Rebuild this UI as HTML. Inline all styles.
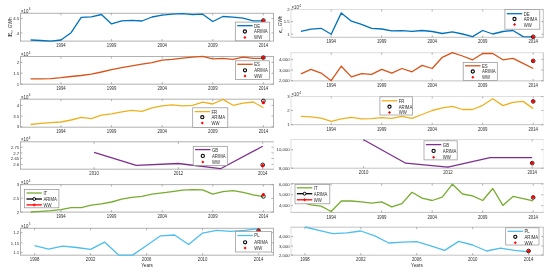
<!DOCTYPE html>
<html><head><meta charset="utf-8"><style>html,body{margin:0;padding:0;background:#fff;overflow:hidden}svg{display:block;filter:blur(0.22px)}</style></head>
<body><svg width="550" height="273" viewBox="0 0 550 273" font-family="Liberation Sans, sans-serif" font-size="4.3" fill="#2e2e2e">
<rect width="550" height="273" fill="#fff"/>
<path d="M20.15 13.3H273.85" stroke="#909090" stroke-width="0.7"/>
<path d="M273.5 13.3V41.1" stroke="#909090" stroke-width="0.7"/>
<path d="M20.15 41.1H273.85" stroke="#909090" stroke-width="0.7"/>
<path d="M20.5 13.3V41.1" stroke="#909090" stroke-width="0.7"/>
<path d="M60.98 41.1v-2.0M60.98 13.3v2.0" stroke="#909090" stroke-width="0.7"/>
<text transform="translate(60.98 47.2) scale(1 1.17)" text-anchor="middle">1994</text>
<path d="M111.58 41.1v-2.0M111.58 13.3v2.0" stroke="#909090" stroke-width="0.7"/>
<text transform="translate(111.58 47.2) scale(1 1.17)" text-anchor="middle">1999</text>
<path d="M162.18 41.1v-2.0M162.18 13.3v2.0" stroke="#909090" stroke-width="0.7"/>
<text transform="translate(162.18 47.2) scale(1 1.17)" text-anchor="middle">2004</text>
<path d="M212.78 41.1v-2.0M212.78 13.3v2.0" stroke="#909090" stroke-width="0.7"/>
<text transform="translate(212.78 47.2) scale(1 1.17)" text-anchor="middle">2009</text>
<path d="M263.38 41.1v-2.0M263.38 13.3v2.0" stroke="#909090" stroke-width="0.7"/>
<text transform="translate(263.38 47.2) scale(1 1.17)" text-anchor="middle">2014</text>
<path d="M20.5 18.5h2.0M273.5 18.5h-2.0" stroke="#909090" stroke-width="0.7"/>
<text transform="translate(19.2 20.15) scale(1 1.0)" text-anchor="end">4.5</text>
<path d="M20.5 32.9h2.0M273.5 32.9h-2.0" stroke="#909090" stroke-width="0.7"/>
<text transform="translate(19.2 34.55) scale(1 1.0)" text-anchor="end">4</text>
<text transform="translate(21.1 12.85) scale(1 1.17)" >&#215;10<tspan font-size="3.1" dx="0.5" dy="-2.1">4</tspan></text>
<polyline points="30.62,40 40.74,40.5 50.86,41.2 60.98,40 71.1,32.7 81.22,17.3 91.34,16.8 101.46,14.5 111.58,23.9 121.7,20.8 131.82,20.4 141.94,21 152.06,17 162.18,15.2 172.3,14.2 182.42,13.7 192.54,14.7 202.66,14.2 212.78,21.5 222.9,16.5 233.02,17.2 243.14,18.2 253.26,20.8 263.38,20.8" fill="none" stroke="#0072BD" stroke-width="1.3" stroke-linejoin="round"/>
<circle cx="263.38" cy="20.5" r="1.85" fill="none" stroke="#000" stroke-width="0.85"/>
<circle cx="263.38" cy="20.5" r="1.6" fill="#f00"/>
<rect x="235.3" y="22.1" width="34.4" height="18.7" fill="#fff" stroke="#909090" stroke-width="0.7"/>
<path d="M237.2 25.7H252.6" stroke="#0072BD" stroke-width="1.3"/>
<text transform="translate(254.1 27.6) scale(1 1.17)" >DE</text>
<circle cx="244.9" cy="31.5" r="1.6" fill="none" stroke="#000" stroke-width="1.1"/>
<path d="M243.4 37.5l1.5 -1.5l1.5 1.5l-1.5 1.5z" fill="#f00"/>
<text transform="translate(254.1 33.4) scale(1 1.17)" >ARIMA</text>
<text transform="translate(254.1 39.4) scale(1 1.17)" >WW</text>
<path d="M20.15 56.5H273.85" stroke="#909090" stroke-width="0.7"/>
<path d="M273.5 56.5V84.2" stroke="#909090" stroke-width="0.7"/>
<path d="M20.15 84.2H273.85" stroke="#909090" stroke-width="0.7"/>
<path d="M20.5 56.5V84.2" stroke="#909090" stroke-width="0.7"/>
<path d="M60.98 84.2v-2.0M60.98 56.5v2.0" stroke="#909090" stroke-width="0.7"/>
<text transform="translate(60.98 90.3) scale(1 1.17)" text-anchor="middle">1994</text>
<path d="M111.58 84.2v-2.0M111.58 56.5v2.0" stroke="#909090" stroke-width="0.7"/>
<text transform="translate(111.58 90.3) scale(1 1.17)" text-anchor="middle">1999</text>
<path d="M162.18 84.2v-2.0M162.18 56.5v2.0" stroke="#909090" stroke-width="0.7"/>
<text transform="translate(162.18 90.3) scale(1 1.17)" text-anchor="middle">2004</text>
<path d="M212.78 84.2v-2.0M212.78 56.5v2.0" stroke="#909090" stroke-width="0.7"/>
<text transform="translate(212.78 90.3) scale(1 1.17)" text-anchor="middle">2009</text>
<path d="M263.38 84.2v-2.0M263.38 56.5v2.0" stroke="#909090" stroke-width="0.7"/>
<text transform="translate(263.38 90.3) scale(1 1.17)" text-anchor="middle">2014</text>
<path d="M20.5 62.3h2.0M273.5 62.3h-2.0" stroke="#909090" stroke-width="0.7"/>
<text transform="translate(19.2 63.95) scale(1 1.0)" text-anchor="end">2</text>
<path d="M20.5 73.2h2.0M273.5 73.2h-2.0" stroke="#909090" stroke-width="0.7"/>
<text transform="translate(19.2 74.85) scale(1 1.0)" text-anchor="end">1.5</text>
<path d="M20.5 84.2h2.0M273.5 84.2h-2.0" stroke="#909090" stroke-width="0.7"/>
<text transform="translate(19.2 85.85) scale(1 1.0)" text-anchor="end">1</text>
<text transform="translate(21.1 56.05) scale(1 1.17)" >&#215;10<tspan font-size="3.1" dx="0.5" dy="-2.1">4</tspan></text>
<polyline points="30.62,78.8 40.74,78.8 50.86,78.6 60.98,77.7 71.1,76.5 81.22,75.5 91.34,74.1 101.46,72 111.58,69.6 121.7,67.7 131.82,65.8 141.94,64.2 152.06,62.7 162.18,60.2 172.3,59.4 182.42,58.1 192.54,57.1 202.66,56.4 212.78,58.9 222.9,58.4 233.02,59.4 243.14,57.1 253.26,58.4 263.38,58.4" fill="none" stroke="#D95319" stroke-width="1.3" stroke-linejoin="round"/>
<circle cx="263.38" cy="57.6" r="1.85" fill="none" stroke="#000" stroke-width="0.85"/>
<circle cx="263.38" cy="57.6" r="1.6" fill="#f00"/>
<rect x="235.4" y="60.8" width="34.2" height="18.8" fill="#fff" stroke="#909090" stroke-width="0.7"/>
<path d="M237.3 64.3H252.7" stroke="#D95319" stroke-width="1.3"/>
<text transform="translate(254.2 66.2) scale(1 1.17)" >ES</text>
<circle cx="245" cy="70.3" r="1.6" fill="none" stroke="#000" stroke-width="1.1"/>
<path d="M243.5 76l1.5 -1.5l1.5 1.5l-1.5 1.5z" fill="#f00"/>
<text transform="translate(254.2 72.2) scale(1 1.17)" >ARIMA</text>
<text transform="translate(254.2 77.9) scale(1 1.17)" >WW</text>
<path d="M20.15 99.2H273.85" stroke="#909090" stroke-width="0.7"/>
<path d="M273.5 99.2V127.2" stroke="#909090" stroke-width="0.7"/>
<path d="M20.15 127.2H273.85" stroke="#909090" stroke-width="0.7"/>
<path d="M20.5 99.2V127.2" stroke="#909090" stroke-width="0.7"/>
<path d="M60.98 127.2v-2.0M60.98 99.2v2.0" stroke="#909090" stroke-width="0.7"/>
<text transform="translate(60.98 133.3) scale(1 1.17)" text-anchor="middle">1994</text>
<path d="M111.58 127.2v-2.0M111.58 99.2v2.0" stroke="#909090" stroke-width="0.7"/>
<text transform="translate(111.58 133.3) scale(1 1.17)" text-anchor="middle">1999</text>
<path d="M162.18 127.2v-2.0M162.18 99.2v2.0" stroke="#909090" stroke-width="0.7"/>
<text transform="translate(162.18 133.3) scale(1 1.17)" text-anchor="middle">2004</text>
<path d="M212.78 127.2v-2.0M212.78 99.2v2.0" stroke="#909090" stroke-width="0.7"/>
<text transform="translate(212.78 133.3) scale(1 1.17)" text-anchor="middle">2009</text>
<path d="M263.38 127.2v-2.0M263.38 99.2v2.0" stroke="#909090" stroke-width="0.7"/>
<text transform="translate(263.38 133.3) scale(1 1.17)" text-anchor="middle">2014</text>
<path d="M20.5 105.4h2.0M273.5 105.4h-2.0" stroke="#909090" stroke-width="0.7"/>
<text transform="translate(19.2 107.05) scale(1 1.0)" text-anchor="end">4</text>
<path d="M20.5 116.1h2.0M273.5 116.1h-2.0" stroke="#909090" stroke-width="0.7"/>
<text transform="translate(19.2 117.75) scale(1 1.0)" text-anchor="end">3.5</text>
<path d="M20.5 126.8h2.0M273.5 126.8h-2.0" stroke="#909090" stroke-width="0.7"/>
<text transform="translate(19.2 128.45) scale(1 1.0)" text-anchor="end">3</text>
<text transform="translate(21.1 98.75) scale(1 1.17)" >&#215;10<tspan font-size="3.1" dx="0.5" dy="-2.1">4</tspan></text>
<polyline points="30.62,124.5 40.74,123.3 50.86,122.7 60.98,122 71.1,120 81.22,117.4 91.34,118.7 101.46,115.1 111.58,113.8 121.7,111.8 131.82,110.3 141.94,111.4 152.06,107.8 162.18,105.8 172.3,104.8 182.42,105.8 192.54,105.3 202.66,102.2 212.78,104 222.9,99.4 233.02,105.3 243.14,103.2 253.26,102 263.38,107.8" fill="none" stroke="#EDB120" stroke-width="1.3" stroke-linejoin="round"/>
<circle cx="263.38" cy="101" r="1.85" fill="none" stroke="#000" stroke-width="0.85"/>
<circle cx="263.38" cy="102.7" r="1.6" fill="#f00"/>
<rect x="192.7" y="107.8" width="35.1" height="19.6" fill="#fff" stroke="#909090" stroke-width="0.7"/>
<path d="M194.6 111.6H210" stroke="#EDB120" stroke-width="1.3"/>
<text transform="translate(211.5 113.5) scale(1 1.17)" >FR</text>
<circle cx="202.3" cy="117.2" r="1.6" fill="none" stroke="#000" stroke-width="1.1"/>
<path d="M200.8 123l1.5 -1.5l1.5 1.5l-1.5 1.5z" fill="#f00"/>
<text transform="translate(211.5 119.1) scale(1 1.17)" >ARIMA</text>
<text transform="translate(211.5 124.9) scale(1 1.17)" >WW</text>
<path d="M20.15 141.8H273.85" stroke="#909090" stroke-width="0.7"/>
<path d="M273.5 141.8V169.2" stroke="#ececec" stroke-width="0.7"/>
<path d="M20.15 169.2H273.85" stroke="#909090" stroke-width="0.7"/>
<path d="M20.5 141.8V169.2" stroke="#909090" stroke-width="0.7"/>
<path d="M94.1 169.2v-2.0M94.1 141.8v2.0" stroke="#909090" stroke-width="0.7"/>
<text transform="translate(94.1 175.3) scale(1 1.17)" text-anchor="middle">2010</text>
<path d="M178.4 169.2v-2.0M178.4 141.8v2.0" stroke="#909090" stroke-width="0.7"/>
<text transform="translate(178.4 175.3) scale(1 1.17)" text-anchor="middle">2012</text>
<path d="M262.7 169.2v-2.0M262.7 141.8v2.0" stroke="#909090" stroke-width="0.7"/>
<text transform="translate(262.7 175.3) scale(1 1.17)" text-anchor="middle">2014</text>
<path d="M20.5 147.3h2.0M273.5 147.3h-2.0" stroke="#909090" stroke-width="0.7"/>
<text transform="translate(19.2 148.95) scale(1 1.0)" text-anchor="end">2.75</text>
<path d="M20.5 152.9h2.0M273.5 152.9h-2.0" stroke="#909090" stroke-width="0.7"/>
<text transform="translate(19.2 154.55) scale(1 1.0)" text-anchor="end">2.7</text>
<path d="M20.5 158.5h2.0M273.5 158.5h-2.0" stroke="#909090" stroke-width="0.7"/>
<text transform="translate(19.2 160.15) scale(1 1.0)" text-anchor="end">2.65</text>
<path d="M20.5 164.4h2.0M273.5 164.4h-2.0" stroke="#909090" stroke-width="0.7"/>
<text transform="translate(19.2 166.05) scale(1 1.0)" text-anchor="end">2.6</text>
<text transform="translate(21.1 141.35) scale(1 1.17)" >&#215;10<tspan font-size="3.1" dx="0.5" dy="-2.1">4</tspan></text>
<polyline points="94.1,152.4 136.25,165.4 178.4,163.5 220.55,168.7 262.7,146.3" fill="none" stroke="#7E2F8E" stroke-width="1.3" stroke-linejoin="round"/>
<circle cx="262.7" cy="164.9" r="1.85" fill="none" stroke="#000" stroke-width="0.85"/>
<circle cx="262.7" cy="165.7" r="1.6" fill="#f00"/>
<rect x="193.2" y="146.3" width="34.1" height="19.1" fill="#fff" stroke="#909090" stroke-width="0.7"/>
<path d="M195.1 149.6H210.5" stroke="#7E2F8E" stroke-width="1.3"/>
<text transform="translate(212 151.5) scale(1 1.17)" >GB</text>
<circle cx="202.8" cy="155.9" r="1.6" fill="none" stroke="#000" stroke-width="1.1"/>
<path d="M201.3 161.9l1.5 -1.5l1.5 1.5l-1.5 1.5z" fill="#f00"/>
<text transform="translate(212 157.8) scale(1 1.17)" >ARIMA</text>
<text transform="translate(212 163.8) scale(1 1.17)" >WW</text>
<path d="M20.15 184.6H273.85" stroke="#909090" stroke-width="0.7"/>
<path d="M273.5 184.6V212.1" stroke="#909090" stroke-width="0.7"/>
<path d="M20.15 212.1H273.85" stroke="#909090" stroke-width="0.7"/>
<path d="M20.5 184.6V212.1" stroke="#909090" stroke-width="0.7"/>
<path d="M60.98 212.1v-2.0M60.98 184.6v2.0" stroke="#909090" stroke-width="0.7"/>
<text transform="translate(60.98 218.2) scale(1 1.17)" text-anchor="middle">1994</text>
<path d="M111.58 212.1v-2.0M111.58 184.6v2.0" stroke="#909090" stroke-width="0.7"/>
<text transform="translate(111.58 218.2) scale(1 1.17)" text-anchor="middle">1999</text>
<path d="M162.18 212.1v-2.0M162.18 184.6v2.0" stroke="#909090" stroke-width="0.7"/>
<text transform="translate(162.18 218.2) scale(1 1.17)" text-anchor="middle">2004</text>
<path d="M212.78 212.1v-2.0M212.78 184.6v2.0" stroke="#909090" stroke-width="0.7"/>
<text transform="translate(212.78 218.2) scale(1 1.17)" text-anchor="middle">2009</text>
<path d="M263.38 212.1v-2.0M263.38 184.6v2.0" stroke="#909090" stroke-width="0.7"/>
<text transform="translate(263.38 218.2) scale(1 1.17)" text-anchor="middle">2014</text>
<path d="M20.5 184.6h2.0M273.5 184.6h-2.0" stroke="#909090" stroke-width="0.7"/>
<text transform="translate(19.2 186.25) scale(1 1.0)" text-anchor="end">3</text>
<path d="M20.5 198.3h2.0M273.5 198.3h-2.0" stroke="#909090" stroke-width="0.7"/>
<text transform="translate(19.2 199.95) scale(1 1.0)" text-anchor="end">2.5</text>
<path d="M20.5 212.1h2.0M273.5 212.1h-2.0" stroke="#909090" stroke-width="0.7"/>
<text transform="translate(19.2 213.75) scale(1 1.0)" text-anchor="end">2</text>
<text transform="translate(21.1 184.15) scale(1 1.17)" >&#215;10<tspan font-size="3.1" dx="0.5" dy="-2.1">4</tspan></text>
<polyline points="30.62,212 40.74,211.4 50.86,210.7 60.98,209.7 71.1,207.6 81.22,207.6 91.34,205.1 101.46,203.8 111.58,202 121.7,199.2 131.82,197.4 141.94,196.4 152.06,194.1 162.18,192.9 172.3,191.6 182.42,190.1 192.54,189.6 202.66,189.8 212.78,194.1 222.9,191.6 233.02,190.6 243.14,192.4 253.26,194.9 263.38,196.7" fill="none" stroke="#77AC30" stroke-width="1.3" stroke-linejoin="round"/>
<circle cx="263.38" cy="196.4" r="1.85" fill="none" stroke="#000" stroke-width="0.85"/>
<circle cx="263.38" cy="194.6" r="1.6" fill="#f00"/>
<rect x="24.6" y="189.5" width="34.3" height="18.3" fill="#fff" stroke="#909090" stroke-width="0.7"/>
<path d="M26.5 193H41.9" stroke="#77AC30" stroke-width="1.3"/>
<text transform="translate(43.4 194.9) scale(1 1.17)" >IT</text>
<path d="M26.5 199H41.9" stroke="#000" stroke-width="1.3"/>
<path d="M26.5 204.9H41.9" stroke="#f00" stroke-width="1.3"/>
<circle cx="34.2" cy="199" r="1.45" fill="#fff" stroke="#000" stroke-width="1"/>
<path d="M32.7 204.9h3M34.2 203.4v3" stroke="#f00" stroke-width="0.9"/>
<text transform="translate(43.4 200.9) scale(1 1.17)" >ARIMA</text>
<text transform="translate(43.4 206.8) scale(1 1.17)" >WW</text>
<path d="M20.15 228.3H273.85" stroke="#909090" stroke-width="0.7"/>
<path d="M273.5 228.3V255.2" stroke="#909090" stroke-width="0.7"/>
<path d="M20.15 255.2H273.85" stroke="#909090" stroke-width="0.7"/>
<path d="M20.5 228.3V255.2" stroke="#909090" stroke-width="0.7"/>
<path d="M34.6 255.2v-2.0M34.6 228.3v2.0" stroke="#909090" stroke-width="0.7"/>
<text transform="translate(34.6 261.3) scale(1 1.17)" text-anchor="middle">1998</text>
<path d="M90.6 255.2v-2.0M90.6 228.3v2.0" stroke="#909090" stroke-width="0.7"/>
<text transform="translate(90.6 261.3) scale(1 1.17)" text-anchor="middle">2002</text>
<path d="M146.6 255.2v-2.0M146.6 228.3v2.0" stroke="#909090" stroke-width="0.7"/>
<text transform="translate(146.6 261.3) scale(1 1.17)" text-anchor="middle">2006</text>
<path d="M202.6 255.2v-2.0M202.6 228.3v2.0" stroke="#909090" stroke-width="0.7"/>
<text transform="translate(202.6 261.3) scale(1 1.17)" text-anchor="middle">2010</text>
<path d="M258.6 255.2v-2.0M258.6 228.3v2.0" stroke="#909090" stroke-width="0.7"/>
<text transform="translate(258.6 261.3) scale(1 1.17)" text-anchor="middle">2014</text>
<path d="M20.5 232.7h2.0M273.5 232.7h-2.0" stroke="#909090" stroke-width="0.7"/>
<text transform="translate(19.2 234.35) scale(1 1.0)" text-anchor="end">1.2</text>
<path d="M20.5 242.9h2.0M273.5 242.9h-2.0" stroke="#909090" stroke-width="0.7"/>
<text transform="translate(19.2 244.55) scale(1 1.0)" text-anchor="end">1.15</text>
<path d="M20.5 252.6h2.0M273.5 252.6h-2.0" stroke="#909090" stroke-width="0.7"/>
<text transform="translate(19.2 254.25) scale(1 1.0)" text-anchor="end">1.1</text>
<text transform="translate(21.1 227.85) scale(1 1.17)" >&#215;10<tspan font-size="3.1" dx="0.5" dy="-2.1">5</tspan></text>
<polyline points="34.6,245.6 48.6,249.2 62.6,246.1 76.6,247.5 90.6,249.4 104.6,242.1 118.6,255.1 132.6,255.1 146.6,245.5 160.6,235.8 174.6,235 188.6,244.5 202.6,233.1 216.6,230.4 230.6,231.4 244.6,230.4 258.6,228.7" fill="none" stroke="#4DBEEE" stroke-width="1.3" stroke-linejoin="round"/>
<circle cx="258.6" cy="230.7" r="1.85" fill="none" stroke="#000" stroke-width="0.85"/>
<circle cx="258.6" cy="230.7" r="1.6" fill="#f00"/>
<rect x="235.5" y="231.6" width="35.9" height="20.4" fill="#fff" stroke="#909090" stroke-width="0.7"/>
<path d="M237.4 235.5H252.8" stroke="#4DBEEE" stroke-width="1.3"/>
<text transform="translate(254.3 237.4) scale(1 1.17)" >PL</text>
<circle cx="245.1" cy="242.3" r="1.6" fill="none" stroke="#000" stroke-width="1.1"/>
<path d="M243.6 248.1l1.5 -1.5l1.5 1.5l-1.5 1.5z" fill="#f00"/>
<text transform="translate(254.3 244.2) scale(1 1.17)" >ARIMA</text>
<text transform="translate(254.3 250) scale(1 1.17)" >WW</text>
<path d="M290.65 9.5H543.65" stroke="#d0d0d0" stroke-width="0.7"/>
<path d="M543.3 9.5V37.3" stroke="#a8a8a8" stroke-width="0.7"/>
<path d="M290.65 37.3H543.65" stroke="#a8a8a8" stroke-width="0.7"/>
<path d="M291 9.5V37.3" stroke="#d0d0d0" stroke-width="0.7"/>
<path d="M331.2 37.3v-2.0M331.2 9.5v2.0" stroke="#909090" stroke-width="0.7"/>
<text transform="translate(331.2 43.4) scale(1 1.17)" text-anchor="middle">1994</text>
<path d="M381.7 37.3v-2.0M381.7 9.5v2.0" stroke="#909090" stroke-width="0.7"/>
<text transform="translate(381.7 43.4) scale(1 1.17)" text-anchor="middle">1999</text>
<path d="M432.2 37.3v-2.0M432.2 9.5v2.0" stroke="#909090" stroke-width="0.7"/>
<text transform="translate(432.2 43.4) scale(1 1.17)" text-anchor="middle">2004</text>
<path d="M482.7 37.3v-2.0M482.7 9.5v2.0" stroke="#909090" stroke-width="0.7"/>
<text transform="translate(482.7 43.4) scale(1 1.17)" text-anchor="middle">2009</text>
<path d="M533.2 37.3v-2.0M533.2 9.5v2.0" stroke="#909090" stroke-width="0.7"/>
<text transform="translate(533.2 43.4) scale(1 1.17)" text-anchor="middle">2014</text>
<path d="M291 9.6h2.0M543.3 9.6h-2.0" stroke="#909090" stroke-width="0.7"/>
<text transform="translate(289.7 11.25) scale(1 1.0)" text-anchor="end">2</text>
<path d="M291 21.6h2.0M543.3 21.6h-2.0" stroke="#909090" stroke-width="0.7"/>
<text transform="translate(289.7 23.25) scale(1 1.0)" text-anchor="end">1.5</text>
<path d="M291 34.2h2.0M543.3 34.2h-2.0" stroke="#909090" stroke-width="0.7"/>
<text transform="translate(289.7 35.85) scale(1 1.0)" text-anchor="end">1</text>
<text transform="translate(291.6 9.05) scale(1 1.17)" >&#215;10<tspan font-size="3.1" dx="0.5" dy="-2.1">4</tspan></text>
<polyline points="300.9,31.4 311,29.2 321.1,28.3 331.2,34.2 341.3,12.9 351.4,21.2 361.5,24.3 371.6,28.3 381.7,29 391.8,30.9 401.9,30.7 412,31.4 422.1,30.5 432.2,31.5 442.3,33.5 452.4,31.8 462.5,34 472.6,36.6 482.7,30.5 492.8,34 502.9,31.5 513,30.5 523.1,36.6 533.2,36.8" fill="none" stroke="#0072BD" stroke-width="1.3" stroke-linejoin="round"/>
<circle cx="533.2" cy="36.8" r="1.85" fill="none" stroke="#000" stroke-width="0.85"/>
<circle cx="533.2" cy="36.8" r="1.6" fill="#f00"/>
<rect x="504.9" y="9.5" width="34.9" height="19.7" fill="#fff" stroke="#909090" stroke-width="0.7"/>
<path d="M506.8 13.7H522.2" stroke="#0072BD" stroke-width="1.3"/>
<text transform="translate(523.7 15.6) scale(1 1.17)" >DE</text>
<circle cx="514.5" cy="19" r="1.6" fill="none" stroke="#000" stroke-width="1.1"/>
<path d="M513 24.6l1.5 -1.5l1.5 1.5l-1.5 1.5z" fill="#f00"/>
<text transform="translate(523.7 20.9) scale(1 1.17)" >ARIMA</text>
<text transform="translate(523.7 26.5) scale(1 1.17)" >WW</text>
<path d="M290.65 52.7H543.65" stroke="#d0d0d0" stroke-width="0.7"/>
<path d="M543.3 52.7V80.9" stroke="#a8a8a8" stroke-width="0.7"/>
<path d="M290.65 80.9H543.65" stroke="#a8a8a8" stroke-width="0.7"/>
<path d="M291 52.7V80.9" stroke="#d0d0d0" stroke-width="0.7"/>
<path d="M331.2 80.9v-2.0M331.2 52.7v2.0" stroke="#909090" stroke-width="0.7"/>
<text transform="translate(331.2 87) scale(1 1.17)" text-anchor="middle">1994</text>
<path d="M381.7 80.9v-2.0M381.7 52.7v2.0" stroke="#909090" stroke-width="0.7"/>
<text transform="translate(381.7 87) scale(1 1.17)" text-anchor="middle">1999</text>
<path d="M432.2 80.9v-2.0M432.2 52.7v2.0" stroke="#909090" stroke-width="0.7"/>
<text transform="translate(432.2 87) scale(1 1.17)" text-anchor="middle">2004</text>
<path d="M482.7 80.9v-2.0M482.7 52.7v2.0" stroke="#909090" stroke-width="0.7"/>
<text transform="translate(482.7 87) scale(1 1.17)" text-anchor="middle">2009</text>
<path d="M533.2 80.9v-2.0M533.2 52.7v2.0" stroke="#909090" stroke-width="0.7"/>
<text transform="translate(533.2 87) scale(1 1.17)" text-anchor="middle">2014</text>
<path d="M291 59.4h2.0M543.3 59.4h-2.0" stroke="#909090" stroke-width="0.7"/>
<text transform="translate(289.7 61.05) scale(1 1.0)" text-anchor="end">4,000</text>
<path d="M291 70h2.0M543.3 70h-2.0" stroke="#909090" stroke-width="0.7"/>
<text transform="translate(289.7 71.65) scale(1 1.0)" text-anchor="end">3,000</text>
<path d="M291 80.7h2.0M543.3 80.7h-2.0" stroke="#909090" stroke-width="0.7"/>
<text transform="translate(289.7 82.35) scale(1 1.0)" text-anchor="end">2,000</text>
<polyline points="300.9,73.8 311,69.3 321.1,73.1 331.2,80.7 341.3,66.2 351.4,76.9 361.5,73.6 371.6,74.4 381.7,69.3 391.8,73.1 401.9,68.5 412,71.8 422.1,65.4 432.2,68.5 442.3,57.3 452.4,52.7 462.5,56 472.6,59.8 482.7,53.5 492.8,53.5 502.9,59.8 513,58.3 523.1,63.4 533.2,68.5" fill="none" stroke="#D95319" stroke-width="1.3" stroke-linejoin="round"/>
<circle cx="533.2" cy="60.9" r="1.85" fill="none" stroke="#000" stroke-width="0.85"/>
<circle cx="533.2" cy="60.9" r="1.6" fill="#f00"/>
<rect x="463.2" y="62.4" width="34.1" height="18.2" fill="#fff" stroke="#909090" stroke-width="0.7"/>
<path d="M465.1 65.8H480.5" stroke="#D95319" stroke-width="1.3"/>
<text transform="translate(482 67.7) scale(1 1.17)" >ES</text>
<circle cx="472.8" cy="71.5" r="1.6" fill="none" stroke="#000" stroke-width="1.1"/>
<path d="M471.3 77.3l1.5 -1.5l1.5 1.5l-1.5 1.5z" fill="#f00"/>
<text transform="translate(482 73.4) scale(1 1.17)" >ARIMA</text>
<text transform="translate(482 79.2) scale(1 1.17)" >WW</text>
<path d="M290.65 96.5H543.65" stroke="#d0d0d0" stroke-width="0.7"/>
<path d="M543.3 96.5V124.7" stroke="#ececec" stroke-width="0.7"/>
<path d="M290.65 124.7H543.65" stroke="#a8a8a8" stroke-width="0.7"/>
<path d="M291 96.5V124.7" stroke="#d0d0d0" stroke-width="0.7"/>
<path d="M331.2 124.7v-2.0M331.2 96.5v2.0" stroke="#909090" stroke-width="0.7"/>
<text transform="translate(331.2 130.8) scale(1 1.17)" text-anchor="middle">1994</text>
<path d="M381.7 124.7v-2.0M381.7 96.5v2.0" stroke="#909090" stroke-width="0.7"/>
<text transform="translate(381.7 130.8) scale(1 1.17)" text-anchor="middle">1999</text>
<path d="M432.2 124.7v-2.0M432.2 96.5v2.0" stroke="#909090" stroke-width="0.7"/>
<text transform="translate(432.2 130.8) scale(1 1.17)" text-anchor="middle">2004</text>
<path d="M482.7 124.7v-2.0M482.7 96.5v2.0" stroke="#909090" stroke-width="0.7"/>
<text transform="translate(482.7 130.8) scale(1 1.17)" text-anchor="middle">2009</text>
<path d="M533.2 124.7v-2.0M533.2 96.5v2.0" stroke="#909090" stroke-width="0.7"/>
<text transform="translate(533.2 130.8) scale(1 1.17)" text-anchor="middle">2014</text>
<path d="M291 96.5h2.0M543.3 96.5h-2.0" stroke="#909090" stroke-width="0.7"/>
<text transform="translate(289.7 98.15) scale(1 1.0)" text-anchor="end">3</text>
<path d="M291 110.5h2.0M543.3 110.5h-2.0" stroke="#909090" stroke-width="0.7"/>
<text transform="translate(289.7 112.15) scale(1 1.0)" text-anchor="end">2</text>
<path d="M291 124.7h2.0M543.3 124.7h-2.0" stroke="#909090" stroke-width="0.7"/>
<text transform="translate(289.7 126.35) scale(1 1.0)" text-anchor="end">1</text>
<text transform="translate(291.6 96.05) scale(1 1.17)" >&#215;10<tspan font-size="3.1" dx="0.5" dy="-2.1">4</tspan></text>
<polyline points="300.9,116.3 311,116.8 321.1,118.1 331.2,121.4 341.3,118.8 351.4,117.3 361.5,118.8 371.6,118.6 381.7,117.7 391.8,118.4 401.9,116.4 412,118.4 422.1,114.5 432.2,110.5 442.3,107.9 452.4,106.3 462.5,109.5 472.6,109.5 482.7,105.3 492.8,98.7 502.9,105.6 513,102.3 523.1,101.4 533.2,108.6" fill="none" stroke="#EDB120" stroke-width="1.3" stroke-linejoin="round"/>
<circle cx="533.2" cy="101.4" r="1.85" fill="none" stroke="#000" stroke-width="0.85"/>
<circle cx="533.2" cy="101.4" r="1.6" fill="#f00"/>
<rect x="379.9" y="96.8" width="32.7" height="18.2" fill="#fff" stroke="#909090" stroke-width="0.7"/>
<path d="M381.8 100.8H397.2" stroke="#EDB120" stroke-width="1.3"/>
<text transform="translate(398.7 102.7) scale(1 1.17)" >FR</text>
<circle cx="389.5" cy="106.7" r="1.6" fill="none" stroke="#000" stroke-width="1.1"/>
<path d="M388 112.5l1.5 -1.5l1.5 1.5l-1.5 1.5z" fill="#f00"/>
<text transform="translate(398.7 108.6) scale(1 1.17)" >ARIMA</text>
<text transform="translate(398.7 114.4) scale(1 1.17)" >WW</text>
<path d="M290.65 139.5H543.65" stroke="#d0d0d0" stroke-width="0.7"/>
<path d="M543.3 139.5V168.2" stroke="#ececec" stroke-width="0.7"/>
<path d="M290.65 168.2H543.65" stroke="#a8a8a8" stroke-width="0.7"/>
<path d="M291 139.5V168.2" stroke="#d0d0d0" stroke-width="0.7"/>
<path d="M363.6 168.2v-2.0M363.6 139.5v2.0" stroke="#909090" stroke-width="0.7"/>
<text transform="translate(363.6 174.3) scale(1 1.17)" text-anchor="middle">2010</text>
<path d="M447.9 168.2v-2.0M447.9 139.5v2.0" stroke="#909090" stroke-width="0.7"/>
<text transform="translate(447.9 174.3) scale(1 1.17)" text-anchor="middle">2012</text>
<path d="M532.2 168.2v-2.0M532.2 139.5v2.0" stroke="#909090" stroke-width="0.7"/>
<text transform="translate(532.2 174.3) scale(1 1.17)" text-anchor="middle">2014</text>
<path d="M291 149.7h2.0M543.3 149.7h-2.0" stroke="#909090" stroke-width="0.7"/>
<text transform="translate(289.7 151.35) scale(1 1.0)" text-anchor="end">10,000</text>
<path d="M291 168.2h2.0M543.3 168.2h-2.0" stroke="#909090" stroke-width="0.7"/>
<text transform="translate(289.7 169.85) scale(1 1.0)" text-anchor="end">8,000</text>
<polyline points="363.6,139.8 405.75,163.2 447.9,167.2 490.05,157.7 532.2,157.7" fill="none" stroke="#7E2F8E" stroke-width="1.3" stroke-linejoin="round"/>
<circle cx="532.2" cy="163.1" r="1.85" fill="none" stroke="#000" stroke-width="0.85"/>
<circle cx="532.2" cy="163.1" r="1.6" fill="#f00"/>
<rect x="424" y="140.8" width="33.2" height="19.1" fill="#fff" stroke="#909090" stroke-width="0.7"/>
<path d="M425.9 144.6H441.3" stroke="#7E2F8E" stroke-width="1.3"/>
<text transform="translate(442.8 146.5) scale(1 1.17)" >GB</text>
<circle cx="433.6" cy="150.9" r="1.6" fill="none" stroke="#000" stroke-width="1.1"/>
<path d="M432.1 157.2l1.5 -1.5l1.5 1.5l-1.5 1.5z" fill="#f00"/>
<text transform="translate(442.8 152.8) scale(1 1.17)" >ARIMA</text>
<text transform="translate(442.8 159.1) scale(1 1.17)" >WW</text>
<path d="M290.65 183.6H543.65" stroke="#a8a8a8" stroke-width="0.7"/>
<path d="M543.3 183.6V212.4" stroke="#ececec" stroke-width="0.7"/>
<path d="M290.65 212.4H543.65" stroke="#a8a8a8" stroke-width="0.7"/>
<path d="M291 183.6V212.4" stroke="#d0d0d0" stroke-width="0.7"/>
<path d="M331.2 212.4v-2.0M331.2 183.6v2.0" stroke="#909090" stroke-width="0.7"/>
<text transform="translate(331.2 218.5) scale(1 1.17)" text-anchor="middle">1994</text>
<path d="M381.7 212.4v-2.0M381.7 183.6v2.0" stroke="#909090" stroke-width="0.7"/>
<text transform="translate(381.7 218.5) scale(1 1.17)" text-anchor="middle">1999</text>
<path d="M432.2 212.4v-2.0M432.2 183.6v2.0" stroke="#909090" stroke-width="0.7"/>
<text transform="translate(432.2 218.5) scale(1 1.17)" text-anchor="middle">2004</text>
<path d="M482.7 212.4v-2.0M482.7 183.6v2.0" stroke="#909090" stroke-width="0.7"/>
<text transform="translate(482.7 218.5) scale(1 1.17)" text-anchor="middle">2009</text>
<path d="M533.2 212.4v-2.0M533.2 183.6v2.0" stroke="#909090" stroke-width="0.7"/>
<text transform="translate(533.2 218.5) scale(1 1.17)" text-anchor="middle">2014</text>
<path d="M291 184h2.0M543.3 184h-2.0" stroke="#909090" stroke-width="0.7"/>
<text transform="translate(289.7 185.65) scale(1 1.0)" text-anchor="end">6,000</text>
<path d="M291 194.8h2.0M543.3 194.8h-2.0" stroke="#909090" stroke-width="0.7"/>
<text transform="translate(289.7 196.45) scale(1 1.0)" text-anchor="end">5,000</text>
<path d="M291 205.6h2.0M543.3 205.6h-2.0" stroke="#909090" stroke-width="0.7"/>
<text transform="translate(289.7 207.25) scale(1 1.0)" text-anchor="end">4,000</text>
<polyline points="300.9,202 311,204.9 321.1,206.1 331.2,211.5 341.3,201 351.4,201 361.5,201.8 371.6,203.1 381.7,201.8 391.8,206.9 401.9,203.6 412,192.3 422.1,198.1 432.2,200.5 442.3,197.2 452.4,184.2 462.5,194 472.6,195.9 482.7,200.5 492.8,188.5 502.9,205.4 513,196.4 523.1,198.6 533.2,200.8" fill="none" stroke="#77AC30" stroke-width="1.3" stroke-linejoin="round"/>
<circle cx="533.2" cy="197.5" r="1.85" fill="none" stroke="#000" stroke-width="0.85"/>
<circle cx="533.2" cy="197.2" r="1.6" fill="#f00"/>
<rect x="295" y="184.5" width="34.8" height="19.3" fill="#fff" stroke="#909090" stroke-width="0.7"/>
<path d="M296.9 187.8H312.3" stroke="#77AC30" stroke-width="1.3"/>
<text transform="translate(313.8 189.7) scale(1 1.17)" >IT</text>
<path d="M296.9 193.7H312.3" stroke="#000" stroke-width="1.3"/>
<path d="M296.9 199.8H312.3" stroke="#f00" stroke-width="1.3"/>
<circle cx="304.6" cy="193.7" r="1.45" fill="#fff" stroke="#000" stroke-width="1"/>
<path d="M303.1 199.8h3M304.6 198.3v3" stroke="#f00" stroke-width="0.9"/>
<text transform="translate(313.8 195.6) scale(1 1.17)" >ARIMA</text>
<text transform="translate(313.8 201.7) scale(1 1.17)" >WW</text>
<path d="M290.65 227.2H543.65" stroke="#a8a8a8" stroke-width="0.7"/>
<path d="M543.3 227.2V255.2" stroke="#a8a8a8" stroke-width="0.7"/>
<path d="M290.65 255.2H543.65" stroke="#a8a8a8" stroke-width="0.7"/>
<path d="M291 227.2V255.2" stroke="#d0d0d0" stroke-width="0.7"/>
<path d="M304.9 255.2v-2.0M304.9 227.2v2.0" stroke="#909090" stroke-width="0.7"/>
<text transform="translate(304.9 261.3) scale(1 1.17)" text-anchor="middle">1998</text>
<path d="M360.82 255.2v-2.0M360.82 227.2v2.0" stroke="#909090" stroke-width="0.7"/>
<text transform="translate(360.82 261.3) scale(1 1.17)" text-anchor="middle">2002</text>
<path d="M416.74 255.2v-2.0M416.74 227.2v2.0" stroke="#909090" stroke-width="0.7"/>
<text transform="translate(416.74 261.3) scale(1 1.17)" text-anchor="middle">2006</text>
<path d="M472.66 255.2v-2.0M472.66 227.2v2.0" stroke="#909090" stroke-width="0.7"/>
<text transform="translate(472.66 261.3) scale(1 1.17)" text-anchor="middle">2010</text>
<path d="M528.58 255.2v-2.0M528.58 227.2v2.0" stroke="#909090" stroke-width="0.7"/>
<text transform="translate(528.58 261.3) scale(1 1.17)" text-anchor="middle">2014</text>
<path d="M291 236.6h2.0M543.3 236.6h-2.0" stroke="#909090" stroke-width="0.7"/>
<text transform="translate(289.7 238.25) scale(1 1.0)" text-anchor="end">4,000</text>
<path d="M291 246h2.0M543.3 246h-2.0" stroke="#909090" stroke-width="0.7"/>
<text transform="translate(289.7 247.65) scale(1 1.0)" text-anchor="end">3,000</text>
<path d="M291 255h2.0M543.3 255h-2.0" stroke="#909090" stroke-width="0.7"/>
<text transform="translate(289.7 256.65) scale(1 1.0)" text-anchor="end">2,000</text>
<polyline points="304.9,227 318.88,230.3 332.86,233.6 346.84,232.8 360.82,231 374.8,235.9 388.78,243 402.76,242.2 416.74,241.7 430.72,245.8 444.7,250.4 458.68,241.4 472.66,245 486.64,251 500.62,248.2 514.6,250.4 528.58,251.8" fill="none" stroke="#4DBEEE" stroke-width="1.3" stroke-linejoin="round"/>
<circle cx="528.58" cy="251" r="1.85" fill="none" stroke="#000" stroke-width="0.85"/>
<circle cx="528.58" cy="251" r="1.6" fill="#f00"/>
<rect x="505.7" y="227.8" width="33.3" height="17.2" fill="#fff" stroke="#909090" stroke-width="0.7"/>
<path d="M507.6 231.3H523" stroke="#4DBEEE" stroke-width="1.3"/>
<text transform="translate(524.5 233.2) scale(1 1.17)" >PL</text>
<circle cx="515.3" cy="236.8" r="1.6" fill="none" stroke="#000" stroke-width="1.1"/>
<path d="M513.8 242.8l1.5 -1.5l1.5 1.5l-1.5 1.5z" fill="#f00"/>
<text transform="translate(524.5 238.7) scale(1 1.17)" >ARIMA</text>
<text transform="translate(524.5 244.7) scale(1 1.17)" >WW</text>
<g transform="translate(11.6,27) rotate(-90)"><text text-anchor="middle" font-size="4.8" textLength="19.3" lengthAdjust="spacingAndGlyphs"><tspan font-family="Liberation Serif" font-weight="bold" font-size="6">E</tspan><tspan font-size="3.4" dy="0.9">c</tspan><tspan dy="-0.9">, GWh</tspan></text></g>
<g transform="translate(282.3,24.3) rotate(-90)"><text text-anchor="middle" font-size="4.8" textLength="17.5" lengthAdjust="spacingAndGlyphs"><tspan font-family="Liberation Serif" font-weight="bold" font-style="italic" font-size="6">e</tspan><tspan font-size="3.4" dy="0.9">c</tspan><tspan dy="-0.9">, GWh</tspan></text></g>
<text x="147" y="266.5" text-anchor="middle" font-size="4.6">Years</text>
<text x="416.9" y="266.5" text-anchor="middle" font-size="4.6">Years</text>
</svg></body></html>
